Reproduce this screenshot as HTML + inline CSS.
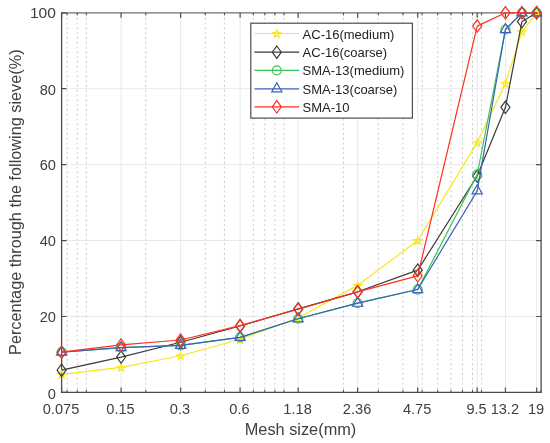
<!DOCTYPE html><html><head><meta charset="utf-8"><title>chart</title><style>html,body{margin:0;padding:0;background:#fff}svg{display:block}</style></head><body><svg width="550" height="443" viewBox="0 0 550 443" font-family="'Liberation Sans', sans-serif">
<rect width="550" height="443" fill="#fff"/>
<line x1="61.60" x2="61.60" y1="12.8" y2="392.4" stroke="#e4e6e8" stroke-width="0.9"/>
<line x1="121.10" x2="121.10" y1="12.8" y2="392.4" stroke="#e4e6e8" stroke-width="0.9"/>
<line x1="180.60" x2="180.60" y1="12.8" y2="392.4" stroke="#e4e6e8" stroke-width="0.9"/>
<line x1="240.10" x2="240.10" y1="12.8" y2="392.4" stroke="#e4e6e8" stroke-width="0.9"/>
<line x1="298.16" x2="298.16" y1="12.8" y2="392.4" stroke="#e4e6e8" stroke-width="0.9"/>
<line x1="357.65" x2="357.65" y1="12.8" y2="392.4" stroke="#e4e6e8" stroke-width="0.9"/>
<line x1="417.70" x2="417.70" y1="12.8" y2="392.4" stroke="#e4e6e8" stroke-width="0.9"/>
<line x1="477.20" x2="477.20" y1="12.8" y2="392.4" stroke="#e4e6e8" stroke-width="0.9"/>
<line x1="505.43" x2="505.43" y1="12.8" y2="392.4" stroke="#e4e6e8" stroke-width="0.9"/>
<line x1="536.70" x2="536.70" y1="12.8" y2="392.4" stroke="#e4e6e8" stroke-width="0.9"/>
<line x1="61.6" x2="541.1" y1="316.48" y2="316.48" stroke="#e4e6e8" stroke-width="0.9"/>
<line x1="61.6" x2="541.1" y1="240.56" y2="240.56" stroke="#e4e6e8" stroke-width="0.9"/>
<line x1="61.6" x2="541.1" y1="164.64" y2="164.64" stroke="#e4e6e8" stroke-width="0.9"/>
<line x1="61.6" x2="541.1" y1="88.72" y2="88.72" stroke="#e4e6e8" stroke-width="0.9"/>
<line x1="67.14" x2="67.14" y1="12.8" y2="392.4" stroke="#cfcfcf" stroke-width="1" stroke-dasharray="2.2 2.6"/>
<line x1="77.25" x2="77.25" y1="12.8" y2="392.4" stroke="#cfcfcf" stroke-width="1" stroke-dasharray="2.2 2.6"/>
<line x1="86.29" x2="86.29" y1="12.8" y2="392.4" stroke="#cfcfcf" stroke-width="1" stroke-dasharray="2.2 2.6"/>
<line x1="145.79" x2="145.79" y1="12.8" y2="392.4" stroke="#cfcfcf" stroke-width="1" stroke-dasharray="2.2 2.6"/>
<line x1="205.29" x2="205.29" y1="12.8" y2="392.4" stroke="#cfcfcf" stroke-width="1" stroke-dasharray="2.2 2.6"/>
<line x1="224.45" x2="224.45" y1="12.8" y2="392.4" stroke="#cfcfcf" stroke-width="1" stroke-dasharray="2.2 2.6"/>
<line x1="253.33" x2="253.33" y1="12.8" y2="392.4" stroke="#cfcfcf" stroke-width="1" stroke-dasharray="2.2 2.6"/>
<line x1="264.79" x2="264.79" y1="12.8" y2="392.4" stroke="#cfcfcf" stroke-width="1" stroke-dasharray="2.2 2.6"/>
<line x1="274.90" x2="274.90" y1="12.8" y2="392.4" stroke="#cfcfcf" stroke-width="1" stroke-dasharray="2.2 2.6"/>
<line x1="283.95" x2="283.95" y1="12.8" y2="392.4" stroke="#cfcfcf" stroke-width="1" stroke-dasharray="2.2 2.6"/>
<line x1="343.45" x2="343.45" y1="12.8" y2="392.4" stroke="#cfcfcf" stroke-width="1" stroke-dasharray="2.2 2.6"/>
<line x1="378.25" x2="378.25" y1="12.8" y2="392.4" stroke="#cfcfcf" stroke-width="1" stroke-dasharray="2.2 2.6"/>
<line x1="402.95" x2="402.95" y1="12.8" y2="392.4" stroke="#cfcfcf" stroke-width="1" stroke-dasharray="2.2 2.6"/>
<line x1="422.10" x2="422.10" y1="12.8" y2="392.4" stroke="#cfcfcf" stroke-width="1" stroke-dasharray="2.2 2.6"/>
<line x1="437.75" x2="437.75" y1="12.8" y2="392.4" stroke="#cfcfcf" stroke-width="1" stroke-dasharray="2.2 2.6"/>
<line x1="450.98" x2="450.98" y1="12.8" y2="392.4" stroke="#cfcfcf" stroke-width="1" stroke-dasharray="2.2 2.6"/>
<line x1="462.45" x2="462.45" y1="12.8" y2="392.4" stroke="#cfcfcf" stroke-width="1" stroke-dasharray="2.2 2.6"/>
<line x1="472.56" x2="472.56" y1="12.8" y2="392.4" stroke="#cfcfcf" stroke-width="1" stroke-dasharray="2.2 2.6"/>
<line x1="481.60" x2="481.60" y1="12.8" y2="392.4" stroke="#cfcfcf" stroke-width="1" stroke-dasharray="2.2 2.6"/>
<path d="M61.6 12.8H541.1" fill="none" stroke="#6e6e6e" stroke-width="1.3"/>
<path d="M61.6 12.200000000000001V392.4H541.1V12.200000000000001" fill="none" stroke="#4d4d4d" stroke-width="1.3"/>
<path d="M61.60 392.4v-5M61.60 12.8v5" stroke="#4d4d4d" stroke-width="1.2"/>
<path d="M121.10 392.4v-5M121.10 12.8v5" stroke="#4d4d4d" stroke-width="1.2"/>
<path d="M180.60 392.4v-5M180.60 12.8v5" stroke="#4d4d4d" stroke-width="1.2"/>
<path d="M240.10 392.4v-5M240.10 12.8v5" stroke="#4d4d4d" stroke-width="1.2"/>
<path d="M298.16 392.4v-5M298.16 12.8v5" stroke="#4d4d4d" stroke-width="1.2"/>
<path d="M357.65 392.4v-5M357.65 12.8v5" stroke="#4d4d4d" stroke-width="1.2"/>
<path d="M417.70 392.4v-5M417.70 12.8v5" stroke="#4d4d4d" stroke-width="1.2"/>
<path d="M477.20 392.4v-5M477.20 12.8v5" stroke="#4d4d4d" stroke-width="1.2"/>
<path d="M505.43 392.4v-5M505.43 12.8v5" stroke="#4d4d4d" stroke-width="1.2"/>
<path d="M536.70 392.4v-5M536.70 12.8v5" stroke="#4d4d4d" stroke-width="1.2"/>
<path d="M67.14 392.4v-2.6M67.14 12.8v2.6" stroke="#4d4d4d" stroke-width="1"/>
<path d="M77.25 392.4v-2.6M77.25 12.8v2.6" stroke="#4d4d4d" stroke-width="1"/>
<path d="M86.29 392.4v-2.6M86.29 12.8v2.6" stroke="#4d4d4d" stroke-width="1"/>
<path d="M145.79 392.4v-2.6M145.79 12.8v2.6" stroke="#4d4d4d" stroke-width="1"/>
<path d="M205.29 392.4v-2.6M205.29 12.8v2.6" stroke="#4d4d4d" stroke-width="1"/>
<path d="M224.45 392.4v-2.6M224.45 12.8v2.6" stroke="#4d4d4d" stroke-width="1"/>
<path d="M253.33 392.4v-2.6M253.33 12.8v2.6" stroke="#4d4d4d" stroke-width="1"/>
<path d="M264.79 392.4v-2.6M264.79 12.8v2.6" stroke="#4d4d4d" stroke-width="1"/>
<path d="M274.90 392.4v-2.6M274.90 12.8v2.6" stroke="#4d4d4d" stroke-width="1"/>
<path d="M283.95 392.4v-2.6M283.95 12.8v2.6" stroke="#4d4d4d" stroke-width="1"/>
<path d="M343.45 392.4v-2.6M343.45 12.8v2.6" stroke="#4d4d4d" stroke-width="1"/>
<path d="M378.25 392.4v-2.6M378.25 12.8v2.6" stroke="#4d4d4d" stroke-width="1"/>
<path d="M402.95 392.4v-2.6M402.95 12.8v2.6" stroke="#4d4d4d" stroke-width="1"/>
<path d="M422.10 392.4v-2.6M422.10 12.8v2.6" stroke="#4d4d4d" stroke-width="1"/>
<path d="M437.75 392.4v-2.6M437.75 12.8v2.6" stroke="#4d4d4d" stroke-width="1"/>
<path d="M450.98 392.4v-2.6M450.98 12.8v2.6" stroke="#4d4d4d" stroke-width="1"/>
<path d="M462.45 392.4v-2.6M462.45 12.8v2.6" stroke="#4d4d4d" stroke-width="1"/>
<path d="M472.56 392.4v-2.6M472.56 12.8v2.6" stroke="#4d4d4d" stroke-width="1"/>
<path d="M481.60 392.4v-2.6M481.60 12.8v2.6" stroke="#4d4d4d" stroke-width="1"/>
<path d="M541.10 392.4v-2.6M541.10 12.8v2.6" stroke="#4d4d4d" stroke-width="1"/>
<path d="M61.6 392.40h5M541.1 392.40h-5" stroke="#4d4d4d" stroke-width="1.2"/>
<path d="M61.6 316.48h5M541.1 316.48h-5" stroke="#4d4d4d" stroke-width="1.2"/>
<path d="M61.6 240.56h5M541.1 240.56h-5" stroke="#4d4d4d" stroke-width="1.2"/>
<path d="M61.6 164.64h5M541.1 164.64h-5" stroke="#4d4d4d" stroke-width="1.2"/>
<path d="M61.6 88.72h5M541.1 88.72h-5" stroke="#4d4d4d" stroke-width="1.2"/>
<path d="M61.6 12.80h5M541.1 12.80h-5" stroke="#4d4d4d" stroke-width="1.2"/>
<polyline points="61.60,374.37 121.10,367.35 180.60,355.77 240.10,339.26 298.16,318.00 357.65,285.35 417.70,240.56 477.20,142.62 505.43,83.41 521.95,31.78 536.70,12.80" fill="none" stroke="#f6e91c" stroke-width="1.2" stroke-linejoin="round"/>
<path d="M61.60 370.67L62.54 373.47L65.50 373.50L63.12 375.26L64.01 378.09L61.60 376.37L59.19 378.09L60.08 375.26L57.70 373.50L60.66 373.47Z" fill="none" stroke="#f6e91c" stroke-width="1.2"/>
<path d="M121.10 363.65L122.04 366.45L125.00 366.48L122.62 368.24L123.51 371.06L121.10 369.35L118.69 371.06L119.58 368.24L117.20 366.48L120.16 366.45Z" fill="none" stroke="#f6e91c" stroke-width="1.2"/>
<path d="M180.60 352.07L181.54 354.87L184.50 354.90L182.12 356.66L183.01 359.49L180.60 357.77L178.19 359.49L179.08 356.66L176.70 354.90L179.66 354.87Z" fill="none" stroke="#f6e91c" stroke-width="1.2"/>
<path d="M240.10 335.56L241.04 338.36L244.00 338.39L241.62 340.15L242.51 342.97L240.10 341.26L237.69 342.97L238.58 340.15L236.20 338.39L239.16 338.36Z" fill="none" stroke="#f6e91c" stroke-width="1.2"/>
<path d="M298.16 314.30L299.10 317.10L302.05 317.13L299.68 318.89L300.57 321.72L298.16 320.00L295.75 321.72L296.63 318.89L294.26 317.13L297.21 317.10Z" fill="none" stroke="#f6e91c" stroke-width="1.2"/>
<path d="M357.65 281.65L358.60 284.46L361.55 284.49L359.18 286.25L360.06 289.07L357.65 287.35L355.24 289.07L356.13 286.25L353.76 284.49L356.71 284.46Z" fill="none" stroke="#f6e91c" stroke-width="1.2"/>
<path d="M417.70 236.86L418.64 239.67L421.60 239.69L419.22 241.45L420.11 244.28L417.70 242.56L415.29 244.28L416.18 241.45L413.80 239.69L416.76 239.67Z" fill="none" stroke="#f6e91c" stroke-width="1.2"/>
<path d="M477.20 138.92L478.14 141.73L481.10 141.76L478.72 143.52L479.61 146.34L477.20 144.62L474.79 146.34L475.68 143.52L473.30 141.76L476.26 141.73Z" fill="none" stroke="#f6e91c" stroke-width="1.2"/>
<path d="M505.43 79.71L506.37 82.51L509.33 82.54L506.95 84.30L507.84 87.12L505.43 85.41L503.02 87.12L503.91 84.30L501.53 82.54L504.49 82.51Z" fill="none" stroke="#f6e91c" stroke-width="1.2"/>
<path d="M521.95 28.08L522.89 30.89L525.84 30.91L523.47 32.67L524.36 35.50L521.95 33.78L519.54 35.50L520.42 32.67L518.05 30.91L521.00 30.89Z" fill="none" stroke="#f6e91c" stroke-width="1.2"/>
<path d="M536.70 9.10L537.64 11.91L540.60 11.93L538.22 13.69L539.11 16.52L536.70 14.80L534.29 16.52L535.18 13.69L532.80 11.93L535.76 11.91Z" fill="none" stroke="#f6e91c" stroke-width="1.2"/>
<polyline points="61.60,370.19 121.10,357.10 180.60,342.29 240.10,325.97 298.16,308.89 357.65,291.81 417.70,270.17 477.20,176.03 505.43,107.32 521.95,21.53 536.70,12.80" fill="none" stroke="#3a3a3a" stroke-width="1.2" stroke-linejoin="round"/>
<path d="M61.60 363.99L66.10 370.19L61.60 376.39L57.10 370.19Z" fill="none" stroke="#3a3a3a" stroke-width="1.2"/>
<path d="M121.10 350.90L125.60 357.10L121.10 363.30L116.60 357.10Z" fill="none" stroke="#3a3a3a" stroke-width="1.2"/>
<path d="M180.60 336.09L185.10 342.29L180.60 348.49L176.10 342.29Z" fill="none" stroke="#3a3a3a" stroke-width="1.2"/>
<path d="M240.10 319.77L244.60 325.97L240.10 332.17L235.60 325.97Z" fill="none" stroke="#3a3a3a" stroke-width="1.2"/>
<path d="M298.16 302.69L302.66 308.89L298.16 315.09L293.66 308.89Z" fill="none" stroke="#3a3a3a" stroke-width="1.2"/>
<path d="M357.65 285.61L362.15 291.81L357.65 298.01L353.15 291.81Z" fill="none" stroke="#3a3a3a" stroke-width="1.2"/>
<path d="M417.70 263.97L422.20 270.17L417.70 276.37L413.20 270.17Z" fill="none" stroke="#3a3a3a" stroke-width="1.2"/>
<path d="M477.20 169.83L481.70 176.03L477.20 182.23L472.70 176.03Z" fill="none" stroke="#3a3a3a" stroke-width="1.2"/>
<path d="M505.43 101.12L509.93 107.32L505.43 113.52L500.93 107.32Z" fill="none" stroke="#3a3a3a" stroke-width="1.2"/>
<path d="M521.95 15.33L526.45 21.53L521.95 27.73L517.45 21.53Z" fill="none" stroke="#3a3a3a" stroke-width="1.2"/>
<path d="M536.70 6.60L541.20 12.80L536.70 19.00L532.20 12.80Z" fill="none" stroke="#3a3a3a" stroke-width="1.2"/>
<polyline points="61.60,352.16 121.10,347.61 180.60,345.33 240.10,337.36 298.16,318.76 357.65,303.19 417.70,289.53 477.20,174.51 505.43,29.50 521.95,12.80 536.70,12.80" fill="none" stroke="#35c455" stroke-width="1.2" stroke-linejoin="round"/>
<circle cx="61.60" cy="352.16" r="4.5" fill="none" stroke="#35c455" stroke-width="1.2"/>
<circle cx="121.10" cy="347.61" r="4.5" fill="none" stroke="#35c455" stroke-width="1.2"/>
<circle cx="180.60" cy="345.33" r="4.5" fill="none" stroke="#35c455" stroke-width="1.2"/>
<circle cx="240.10" cy="337.36" r="4.5" fill="none" stroke="#35c455" stroke-width="1.2"/>
<circle cx="298.16" cy="318.76" r="4.5" fill="none" stroke="#35c455" stroke-width="1.2"/>
<circle cx="357.65" cy="303.19" r="4.5" fill="none" stroke="#35c455" stroke-width="1.2"/>
<circle cx="417.70" cy="289.53" r="4.5" fill="none" stroke="#35c455" stroke-width="1.2"/>
<circle cx="477.20" cy="174.51" r="4.5" fill="none" stroke="#35c455" stroke-width="1.2"/>
<circle cx="505.43" cy="29.50" r="4.5" fill="none" stroke="#35c455" stroke-width="1.2"/>
<circle cx="521.95" cy="12.80" r="4.5" fill="none" stroke="#35c455" stroke-width="1.2"/>
<circle cx="536.70" cy="12.80" r="4.5" fill="none" stroke="#35c455" stroke-width="1.2"/>
<polyline points="61.60,352.16 121.10,347.61 180.60,345.33 240.10,337.36 298.16,318.76 357.65,303.19 417.70,289.53 477.20,190.83 505.43,29.50 521.95,12.80 536.70,12.80" fill="none" stroke="#3b61b8" stroke-width="1.2" stroke-linejoin="round"/>
<path d="M61.60 346.10L66.70 355.20L56.50 355.20Z" fill="none" stroke="#3b61b8" stroke-width="1.2"/>
<path d="M121.10 341.54L126.20 350.64L116.00 350.64Z" fill="none" stroke="#3b61b8" stroke-width="1.2"/>
<path d="M180.60 339.26L185.70 348.36L175.50 348.36Z" fill="none" stroke="#3b61b8" stroke-width="1.2"/>
<path d="M240.10 331.29L245.20 340.39L235.00 340.39Z" fill="none" stroke="#3b61b8" stroke-width="1.2"/>
<path d="M298.16 312.69L303.26 321.79L293.06 321.79Z" fill="none" stroke="#3b61b8" stroke-width="1.2"/>
<path d="M357.65 297.13L362.75 306.23L352.55 306.23Z" fill="none" stroke="#3b61b8" stroke-width="1.2"/>
<path d="M417.70 283.46L422.80 292.56L412.60 292.56Z" fill="none" stroke="#3b61b8" stroke-width="1.2"/>
<path d="M477.20 184.77L482.30 193.87L472.10 193.87Z" fill="none" stroke="#3b61b8" stroke-width="1.2"/>
<path d="M505.43 23.44L510.53 32.54L500.33 32.54Z" fill="none" stroke="#3b61b8" stroke-width="1.2"/>
<path d="M521.95 6.73L527.05 15.83L516.85 15.83Z" fill="none" stroke="#3b61b8" stroke-width="1.2"/>
<path d="M536.70 6.73L541.80 15.83L531.60 15.83Z" fill="none" stroke="#3b61b8" stroke-width="1.2"/>
<polyline points="61.60,352.16 121.10,344.95 180.60,340.02 240.10,325.59 298.16,309.27 357.65,291.81 417.70,275.86 477.20,26.09 505.43,12.80 521.95,12.80 536.70,12.80" fill="none" stroke="#ff3020" stroke-width="1.2" stroke-linejoin="round"/>
<path d="M61.60 345.96L66.10 352.16L61.60 358.36L57.10 352.16Z" fill="none" stroke="#ff3020" stroke-width="1.2"/>
<path d="M121.10 338.75L125.60 344.95L121.10 351.15L116.60 344.95Z" fill="none" stroke="#ff3020" stroke-width="1.2"/>
<path d="M180.60 333.82L185.10 340.02L180.60 346.22L176.10 340.02Z" fill="none" stroke="#ff3020" stroke-width="1.2"/>
<path d="M240.10 319.39L244.60 325.59L240.10 331.79L235.60 325.59Z" fill="none" stroke="#ff3020" stroke-width="1.2"/>
<path d="M298.16 303.07L302.66 309.27L298.16 315.47L293.66 309.27Z" fill="none" stroke="#ff3020" stroke-width="1.2"/>
<path d="M357.65 285.61L362.15 291.81L357.65 298.01L353.15 291.81Z" fill="none" stroke="#ff3020" stroke-width="1.2"/>
<path d="M417.70 269.66L422.20 275.86L417.70 282.06L413.20 275.86Z" fill="none" stroke="#ff3020" stroke-width="1.2"/>
<path d="M477.20 19.89L481.70 26.09L477.20 32.29L472.70 26.09Z" fill="none" stroke="#ff3020" stroke-width="1.2"/>
<path d="M505.43 6.60L509.93 12.80L505.43 19.00L500.93 12.80Z" fill="none" stroke="#ff3020" stroke-width="1.2"/>
<path d="M521.95 6.60L526.45 12.80L521.95 19.00L517.45 12.80Z" fill="none" stroke="#ff3020" stroke-width="1.2"/>
<path d="M536.70 6.60L541.20 12.80L536.70 19.00L532.20 12.80Z" fill="none" stroke="#ff3020" stroke-width="1.2"/>
<text x="55.9" y="398.60" text-anchor="end" font-size="14.6" fill="#404040">0</text>
<text x="55.9" y="322.48" text-anchor="end" font-size="14.6" fill="#404040">20</text>
<text x="55.9" y="246.36" text-anchor="end" font-size="14.6" fill="#404040">40</text>
<text x="55.9" y="170.44" text-anchor="end" font-size="14.6" fill="#404040">60</text>
<text x="55.9" y="94.62" text-anchor="end" font-size="14.6" fill="#404040">80</text>
<text x="55.9" y="17.60" text-anchor="end" font-size="14.6" fill="#404040" textLength="26" lengthAdjust="spacingAndGlyphs">100</text>
<text x="61.00" y="414" text-anchor="middle" font-size="14.6" fill="#404040">0.075</text>
<text x="120.50" y="414" text-anchor="middle" font-size="14.6" fill="#404040">0.15</text>
<text x="180.00" y="414" text-anchor="middle" font-size="14.6" fill="#404040">0.3</text>
<text x="239.50" y="414" text-anchor="middle" font-size="14.6" fill="#404040">0.6</text>
<text x="297.56" y="414" text-anchor="middle" font-size="14.6" fill="#404040">1.18</text>
<text x="357.05" y="414" text-anchor="middle" font-size="14.6" fill="#404040">2.36</text>
<text x="417.10" y="414" text-anchor="middle" font-size="14.6" fill="#404040">4.75</text>
<text x="476.60" y="414" text-anchor="middle" font-size="14.6" fill="#404040">9.5</text>
<text x="504.83" y="414" text-anchor="middle" font-size="14.6" fill="#404040">13.2</text>
<text x="536.10" y="414" text-anchor="middle" font-size="14.6" fill="#404040">19</text>
<text x="300.5" y="435.2" text-anchor="middle" font-size="15.6" fill="#404040" textLength="111.5" lengthAdjust="spacingAndGlyphs">Mesh size(mm)</text>
<text transform="translate(21 202.2) rotate(-90)" text-anchor="middle" font-size="15.6" fill="#404040" textLength="305.5" lengthAdjust="spacingAndGlyphs">Percentage through the following sieve(%)</text>
<rect x="250.8" y="23.2" width="161.6" height="94.9" fill="#fff" stroke="#4d4d4d" stroke-width="1.2"/>
<line x1="254.4" x2="299.2" y1="33.5" y2="33.5" stroke="#f6e91c" stroke-width="1.2"/>
<path d="M276.80 29.80L277.74 32.61L280.70 32.63L278.32 34.39L279.21 37.22L276.80 35.50L274.39 37.22L275.28 34.39L272.90 32.63L275.86 32.61Z" fill="none" stroke="#f6e91c" stroke-width="1.2"/>
<text x="302.6" y="38.60" font-size="13" fill="#222">AC-16(medium)</text>
<line x1="254.4" x2="299.2" y1="52.2" y2="52.2" stroke="#3a3a3a" stroke-width="1.2"/>
<path d="M276.80 46.00L281.30 52.20L276.80 58.40L272.30 52.20Z" fill="none" stroke="#3a3a3a" stroke-width="1.2"/>
<text x="302.6" y="57.30" font-size="13" fill="#222">AC-16(coarse)</text>
<line x1="254.4" x2="299.2" y1="70.3" y2="70.3" stroke="#35c455" stroke-width="1.2"/>
<circle cx="276.80" cy="70.30" r="4.5" fill="none" stroke="#35c455" stroke-width="1.2"/>
<text x="302.6" y="75.40" font-size="13" fill="#222">SMA-13(medium)</text>
<line x1="254.4" x2="299.2" y1="88.8" y2="88.8" stroke="#3b61b8" stroke-width="1.2"/>
<path d="M276.80 82.73L281.90 91.83L271.70 91.83Z" fill="none" stroke="#3b61b8" stroke-width="1.2"/>
<text x="302.6" y="93.90" font-size="13" fill="#222">SMA-13(coarse)</text>
<line x1="254.4" x2="299.2" y1="106.8" y2="106.8" stroke="#ff3020" stroke-width="1.2"/>
<path d="M276.80 100.60L281.30 106.80L276.80 113.00L272.30 106.80Z" fill="none" stroke="#ff3020" stroke-width="1.2"/>
<text x="302.6" y="111.90" font-size="13" fill="#222">SMA-10</text>
</svg></body></html>
